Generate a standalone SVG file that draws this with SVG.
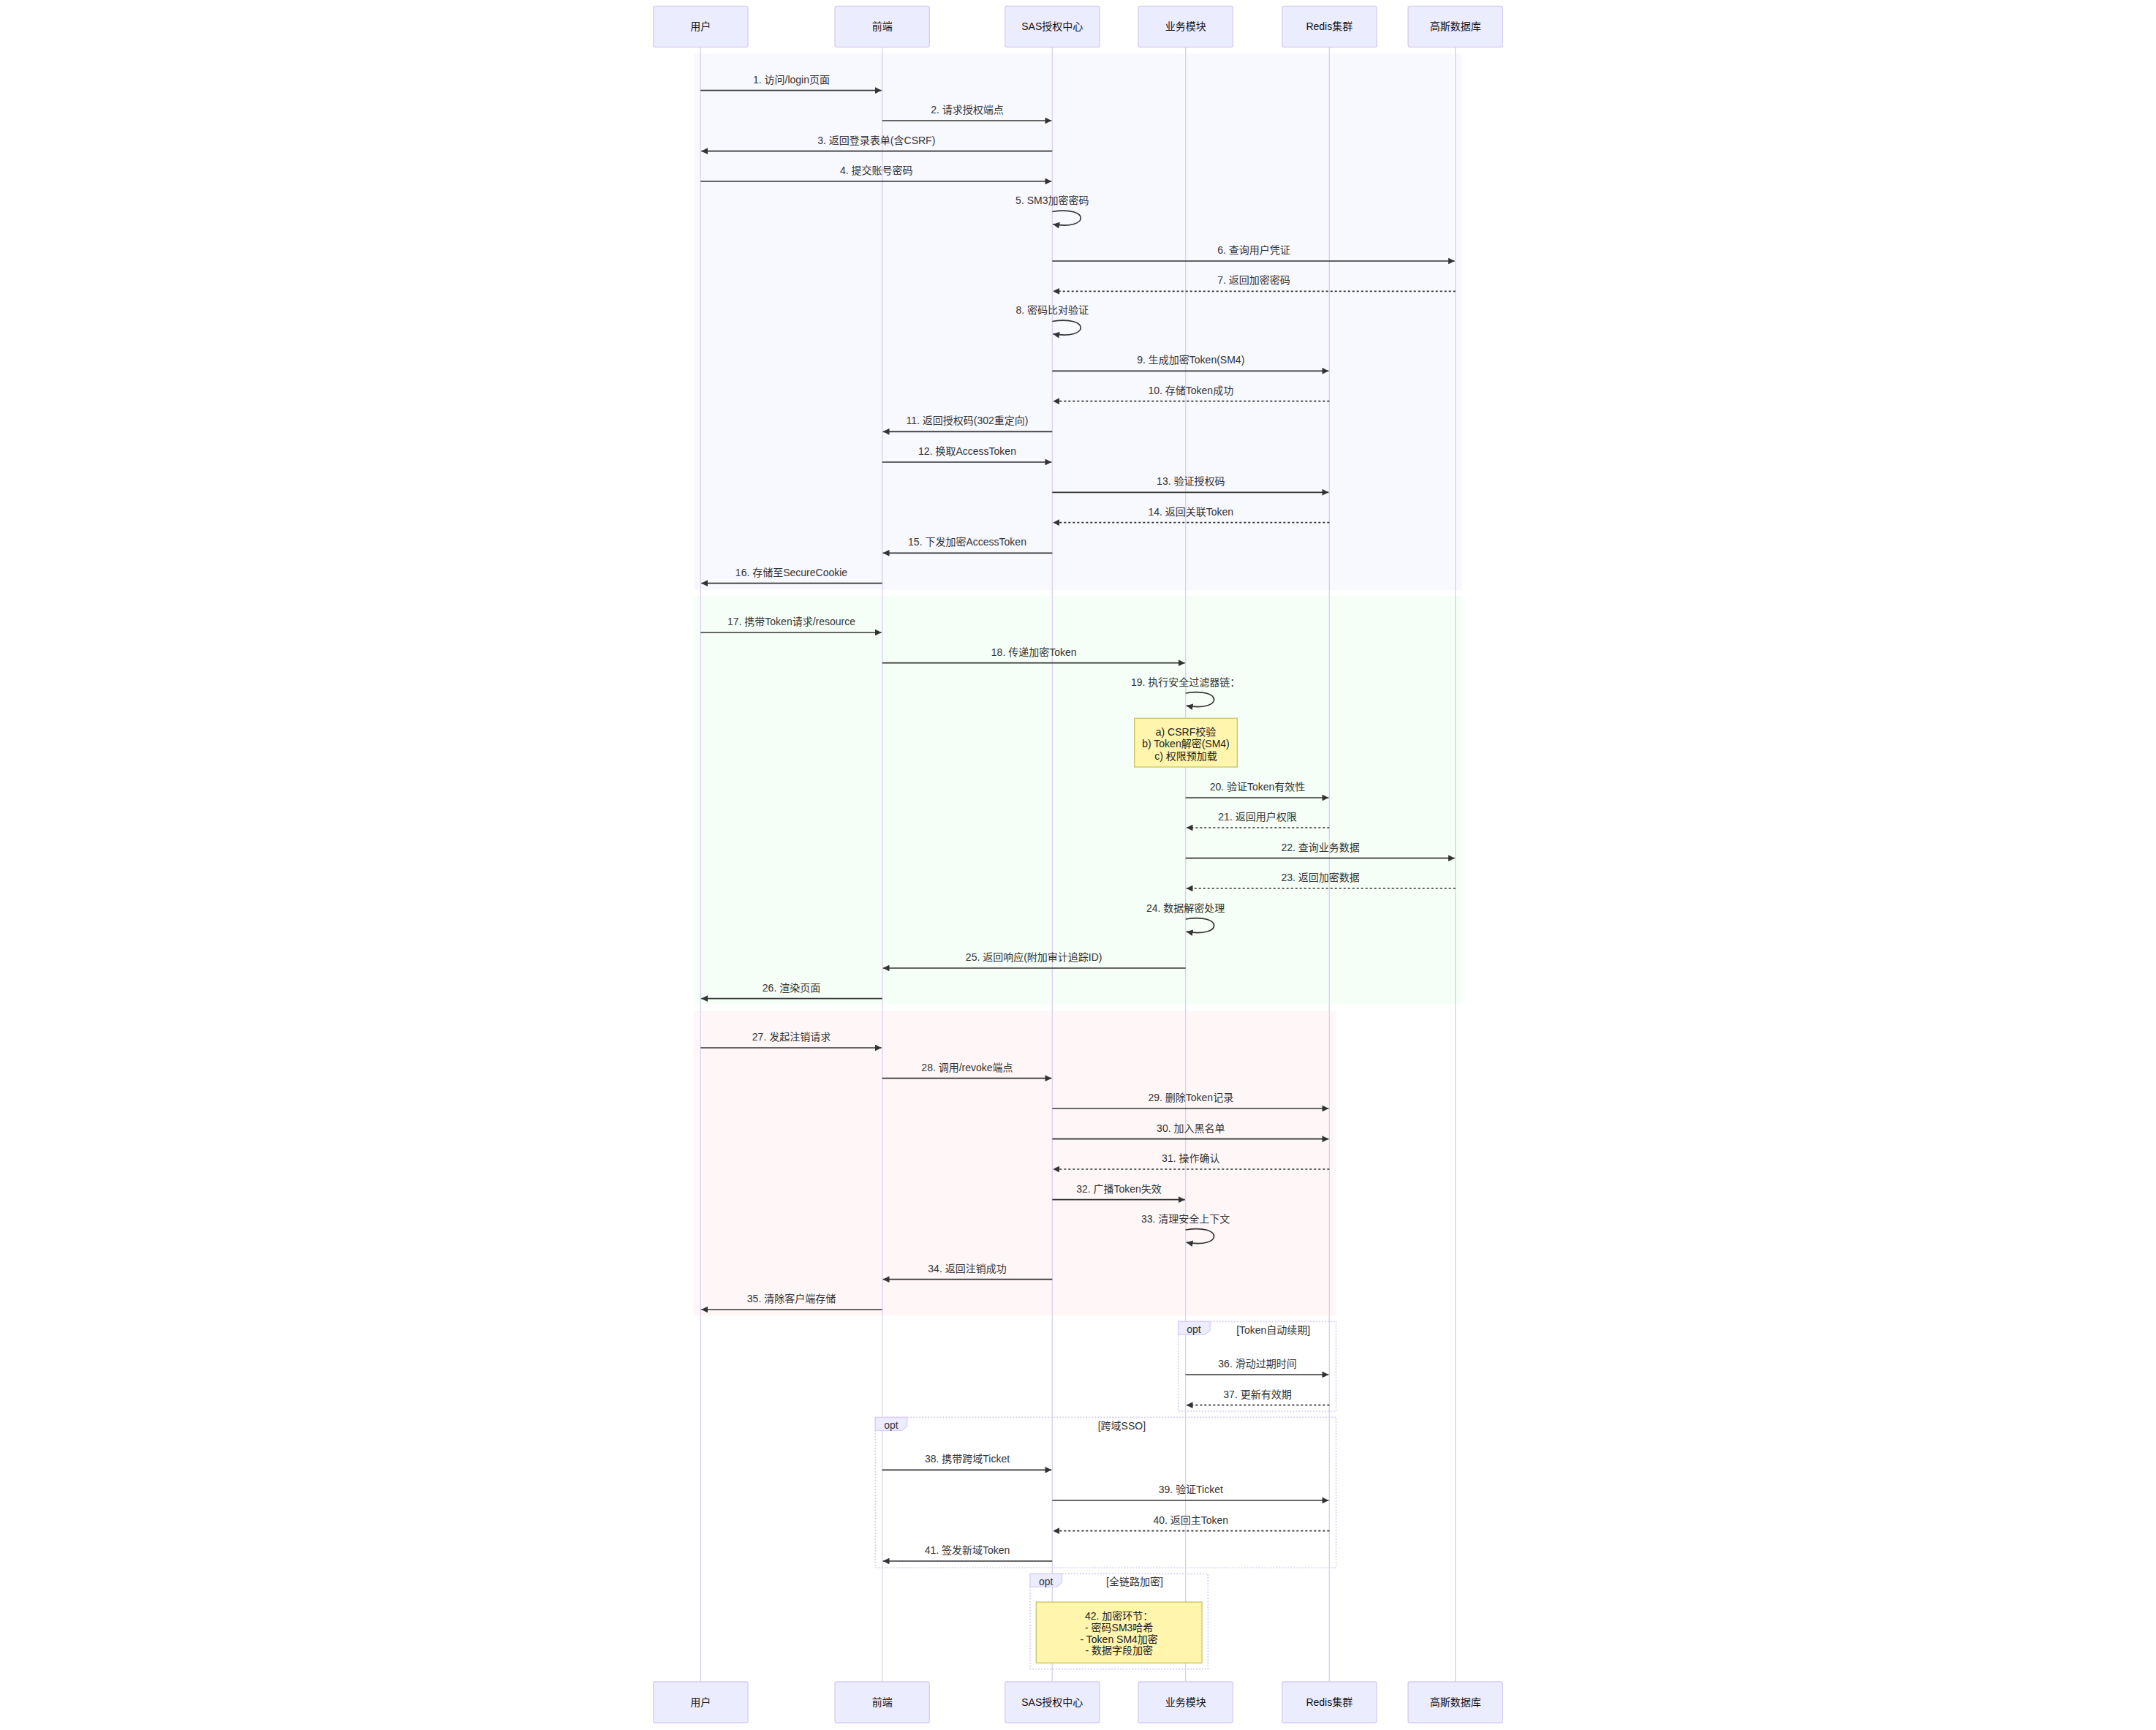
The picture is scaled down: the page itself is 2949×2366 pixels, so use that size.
<svg xmlns="http://www.w3.org/2000/svg" width="2949" height="2366" viewBox="0 0 2949 2366">
<style>
text{font-family:"Liberation Sans","Noto Sans CJK SC",sans-serif;font-size:14px;fill:#333;text-anchor:middle;dominant-baseline:central}
.actor{fill:#ECECFF;stroke:#d6cbf1;stroke-width:1.3}
.atext{fill:#111}
.life{stroke:#dacef3;stroke-width:1.3}
.msg{stroke:#333;stroke-width:1.7;fill:none;marker-end:url(#ah)}
.dot{stroke-dasharray:3,3}
.note{fill:#fff5ad;stroke:#c9c466;stroke-width:1.3}
.ntext{fill:#222}
.opt{fill:none;stroke:#d9cff3;stroke-width:1.7;stroke-dasharray:2,2}
.lbox{fill:#ECECFF;stroke:#d9cff3;stroke-width:1.3}
</style>
<defs>
<marker id="ah" markerUnits="userSpaceOnUse" viewBox="0 0 10 10" markerWidth="9.5" markerHeight="8.8" refX="10" refY="5" orient="auto">
<path d="M0,0 L10,5 L0,10 z" fill="#333"/>
</marker>
</defs>
<rect width="2949" height="2366" fill="#ffffff"/>
<g id="backgrounds">
<rect x="948.9" y="73.3" width="1051.1" height="733.4" fill="#f8f8ff"/>
<rect x="948.9" y="815" width="1051.1" height="559" fill="#f6fff7"/>
<rect x="948.9" y="1382.7" width="877.8" height="416.6" fill="#fff7f7"/>
</g>
<g id="lifelines">
<line class="life" x1="958.3" y1="64.3" x2="958.3" y2="2300"/>
<line class="life" x1="1206.7" y1="64.3" x2="1206.7" y2="2300"/>
<line class="life" x1="1439.3" y1="64.3" x2="1439.3" y2="2300"/>
<line class="life" x1="1621.7" y1="64.3" x2="1621.7" y2="2300"/>
<line class="life" x1="1818.3" y1="64.3" x2="1818.3" y2="2300"/>
<line class="life" x1="1990.7" y1="64.3" x2="1990.7" y2="2300"/>
</g>
<g id="actor-user">
<rect class="actor" x="893.7" y="8.3" width="129.3" height="56" rx="2.6"/>
<text class="atext" x="958.3" y="36.3">用户</text>
<rect class="actor" x="893.7" y="2300" width="129.3" height="56" rx="2.6"/>
<text class="atext" x="958.3" y="2328">用户</text>
</g>
<g id="actor-frontend">
<rect class="actor" x="1142" y="8.3" width="129.3" height="56" rx="2.6"/>
<text class="atext" x="1206.7" y="36.3">前端</text>
<rect class="actor" x="1142" y="2300" width="129.3" height="56" rx="2.6"/>
<text class="atext" x="1206.7" y="2328">前端</text>
</g>
<g id="actor-sas">
<rect class="actor" x="1374.7" y="8.3" width="129.3" height="56" rx="2.6"/>
<text class="atext" x="1439.3" y="36.3">SAS授权中心</text>
<rect class="actor" x="1374.7" y="2300" width="129.3" height="56" rx="2.6"/>
<text class="atext" x="1439.3" y="2328">SAS授权中心</text>
</g>
<g id="actor-biz">
<rect class="actor" x="1557" y="8.3" width="129.3" height="56" rx="2.6"/>
<text class="atext" x="1621.7" y="36.3">业务模块</text>
<rect class="actor" x="1557" y="2300" width="129.3" height="56" rx="2.6"/>
<text class="atext" x="1621.7" y="2328">业务模块</text>
</g>
<g id="actor-redis">
<rect class="actor" x="1753.7" y="8.3" width="129.3" height="56" rx="2.6"/>
<text class="atext" x="1818.3" y="36.3">Redis集群</text>
<rect class="actor" x="1753.7" y="2300" width="129.3" height="56" rx="2.6"/>
<text class="atext" x="1818.3" y="2328">Redis集群</text>
</g>
<g id="actor-gauss">
<rect class="actor" x="1926" y="8.3" width="129.3" height="56" rx="2.6"/>
<text class="atext" x="1990.7" y="36.3">高斯数据库</text>
<rect class="actor" x="1926" y="2300" width="129.3" height="56" rx="2.6"/>
<text class="atext" x="1990.7" y="2328">高斯数据库</text>
</g>
<g id="opt-frames">
<rect class="opt" x="1611.7" y="1807.3" width="215.8" height="122.7"/>
<polygon class="lbox" points="1611.7,1807.3 1655.2,1807.3 1655.2,1819.3 1648,1825.3 1611.7,1825.3"/>
<text x="1633" y="1817.5">opt</text>
<text x="1741.7" y="1819.3">[Token自动续期]</text>
<rect class="opt" x="1197.3" y="1938.3" width="630.2" height="205.7"/>
<polygon class="lbox" points="1197.3,1938.3 1240.8,1938.3 1240.8,1950.3 1233.6,1956.3 1197.3,1956.3"/>
<text x="1219" y="1948.5">opt</text>
<text x="1534.4" y="1950">[跨域SSO]</text>
<rect class="opt" x="1409" y="2152.3" width="243.3" height="130.4"/>
<polygon class="lbox" points="1409,2152.3 1452.5,2152.3 1452.5,2164.3 1445.3,2170.3 1409,2170.3"/>
<text x="1430.7" y="2162.5">opt</text>
<text x="1552" y="2163.3">[全链路加密]</text>
</g>
<g id="note-19">
<rect class="note" x="1551.7" y="982.3" width="140.6" height="66.7"/>
<text class="ntext" x="1622" y="1000.7">a) CSRF校验</text>
<text class="ntext" x="1622" y="1017.3">b) Token解密(SM4)</text>
<text class="ntext" x="1622" y="1034">c) 权限预加载</text>
</g>
<g id="note-42">
<rect class="note" x="1417.3" y="2191" width="226.7" height="83.3"/>
<text class="ntext" x="1530.7" y="2210">42. 加密环节：</text>
<text class="ntext" x="1530.7" y="2225.7">- 密码SM3哈希</text>
<text class="ntext" x="1530.7" y="2241.7">- Token SM4加密</text>
<text class="ntext" x="1530.7" y="2257.3">- 数据字段加密</text>
</g>
<g id="connectors">
<line class="msg" x1="958.3" y1="123.7" x2="1205.7" y2="123.7"/><text x="1082.5" y="108.7">1. 访问/login页面</text>
<line class="msg" x1="1206.7" y1="165" x2="1438.3" y2="165"/><text x="1323" y="150">2. 请求授权端点</text>
<line class="msg" x1="1439.3" y1="206.7" x2="959.3" y2="206.7"/><text x="1198.8" y="191.7">3. 返回登录表单(含CSRF)</text>
<line class="msg" x1="958.3" y1="248" x2="1438.3" y2="248"/><text x="1198.8" y="233">4. 提交账号密码</text>
<path class="msg" d="M1439.3,289.5 C1491,280.9 1491,315.4 1440.3,306.7"/><text x="1439.3" y="274">5. SM3加密密码</text>
<line class="msg" x1="1439.3" y1="357" x2="1989.7" y2="357"/><text x="1715" y="342">6. 查询用户凭证</text>
<line class="msg dot" x1="1990.7" y1="398.3" x2="1440.3" y2="398.3"/><text x="1715" y="383.3">7. 返回加密密码</text>
<path class="msg" d="M1439.3,439.5 C1491,430.9 1491,465.4 1440.3,456.7"/><text x="1439.3" y="424">8. 密码比对验证</text>
<line class="msg" x1="1439.3" y1="507.3" x2="1817.3" y2="507.3"/><text x="1628.8" y="492.3">9. 生成加密Token(SM4)</text>
<line class="msg dot" x1="1818.3" y1="548.7" x2="1440.3" y2="548.7"/><text x="1628.8" y="533.7">10. 存储Token成功</text>
<line class="msg" x1="1439.3" y1="590.3" x2="1207.7" y2="590.3"/><text x="1323" y="575.3">11. 返回授权码(302重定向)</text>
<line class="msg" x1="1206.7" y1="632" x2="1438.3" y2="632"/><text x="1323" y="617">12. 换取AccessToken</text>
<line class="msg" x1="1439.3" y1="673.3" x2="1817.3" y2="673.3"/><text x="1628.8" y="658.3">13. 验证授权码</text>
<line class="msg dot" x1="1818.3" y1="714.7" x2="1440.3" y2="714.7"/><text x="1628.8" y="699.7">14. 返回关联Token</text>
<line class="msg" x1="1439.3" y1="756.3" x2="1207.7" y2="756.3"/><text x="1323" y="741.3">15. 下发加密AccessToken</text>
<line class="msg" x1="1206.7" y1="797.7" x2="959.3" y2="797.7"/><text x="1082.5" y="782.7">16. 存储至SecureCookie</text>
<line class="msg" x1="958.3" y1="865" x2="1205.7" y2="865"/><text x="1082.5" y="850">17. 携带Token请求/resource</text>
<line class="msg" x1="1206.7" y1="906.7" x2="1620.7" y2="906.7"/><text x="1414.2" y="891.7">18. 传递加密Token</text>
<path class="msg" d="M1621.7,948 C1673.4,939.4 1673.4,973.9 1622.7,965.2"/><text x="1621.7" y="932.7">19. 执行安全过滤器链：</text>
<line class="msg" x1="1621.7" y1="1091" x2="1817.3" y2="1091"/><text x="1720" y="1076">20. 验证Token有效性</text>
<line class="msg dot" x1="1818.3" y1="1132" x2="1622.7" y2="1132"/><text x="1720" y="1117">21. 返回用户权限</text>
<line class="msg" x1="1621.7" y1="1173.7" x2="1989.7" y2="1173.7"/><text x="1806.2" y="1158.7">22. 查询业务数据</text>
<line class="msg dot" x1="1990.7" y1="1215" x2="1622.7" y2="1215"/><text x="1806.2" y="1200">23. 返回加密数据</text>
<path class="msg" d="M1621.7,1257 C1673.4,1248.4 1673.4,1282.9 1622.7,1274.2"/><text x="1621.7" y="1241.5">24. 数据解密处理</text>
<line class="msg" x1="1621.7" y1="1324" x2="1207.7" y2="1324"/><text x="1414.2" y="1309">25. 返回响应(附加审计追踪ID)</text>
<line class="msg" x1="1206.7" y1="1365.7" x2="959.3" y2="1365.7"/><text x="1082.5" y="1350.7">26. 渲染页面</text>
<line class="msg" x1="958.3" y1="1433" x2="1205.7" y2="1433"/><text x="1082.5" y="1418">27. 发起注销请求</text>
<line class="msg" x1="1206.7" y1="1474.7" x2="1438.3" y2="1474.7"/><text x="1323" y="1459.7">28. 调用/revoke端点</text>
<line class="msg" x1="1439.3" y1="1516" x2="1817.3" y2="1516"/><text x="1628.8" y="1501">29. 删除Token记录</text>
<line class="msg" x1="1439.3" y1="1557.7" x2="1817.3" y2="1557.7"/><text x="1628.8" y="1542.7">30. 加入黑名单</text>
<line class="msg dot" x1="1818.3" y1="1599" x2="1440.3" y2="1599"/><text x="1628.8" y="1584">31. 操作确认</text>
<line class="msg" x1="1439.3" y1="1640.7" x2="1620.7" y2="1640.7"/><text x="1530.5" y="1625.7">32. 广播Token失效</text>
<path class="msg" d="M1621.7,1682 C1673.4,1673.4 1673.4,1707.9 1622.7,1699.2"/><text x="1621.7" y="1666.7">33. 清理安全上下文</text>
<line class="msg" x1="1439.3" y1="1749.7" x2="1207.7" y2="1749.7"/><text x="1323" y="1734.7">34. 返回注销成功</text>
<line class="msg" x1="1206.7" y1="1791" x2="959.3" y2="1791"/><text x="1082.5" y="1776">35. 清除客户端存储</text>
<line class="msg" x1="1621.7" y1="1880" x2="1817.3" y2="1880"/><text x="1720" y="1865">36. 滑动过期时间</text>
<line class="msg dot" x1="1818.3" y1="1921.7" x2="1622.7" y2="1921.7"/><text x="1720" y="1906.7">37. 更新有效期</text>
<line class="msg" x1="1206.7" y1="2010.3" x2="1438.3" y2="2010.3"/><text x="1323" y="1995.3">38. 携带跨域Ticket</text>
<line class="msg" x1="1439.3" y1="2052" x2="1817.3" y2="2052"/><text x="1628.8" y="2037">39. 验证Ticket</text>
<line class="msg dot" x1="1818.3" y1="2093.7" x2="1440.3" y2="2093.7"/><text x="1628.8" y="2078.7">40. 返回主Token</text>
<line class="msg" x1="1439.3" y1="2135" x2="1207.7" y2="2135"/><text x="1323" y="2120">41. 签发新域Token</text>
</g>
</svg>
